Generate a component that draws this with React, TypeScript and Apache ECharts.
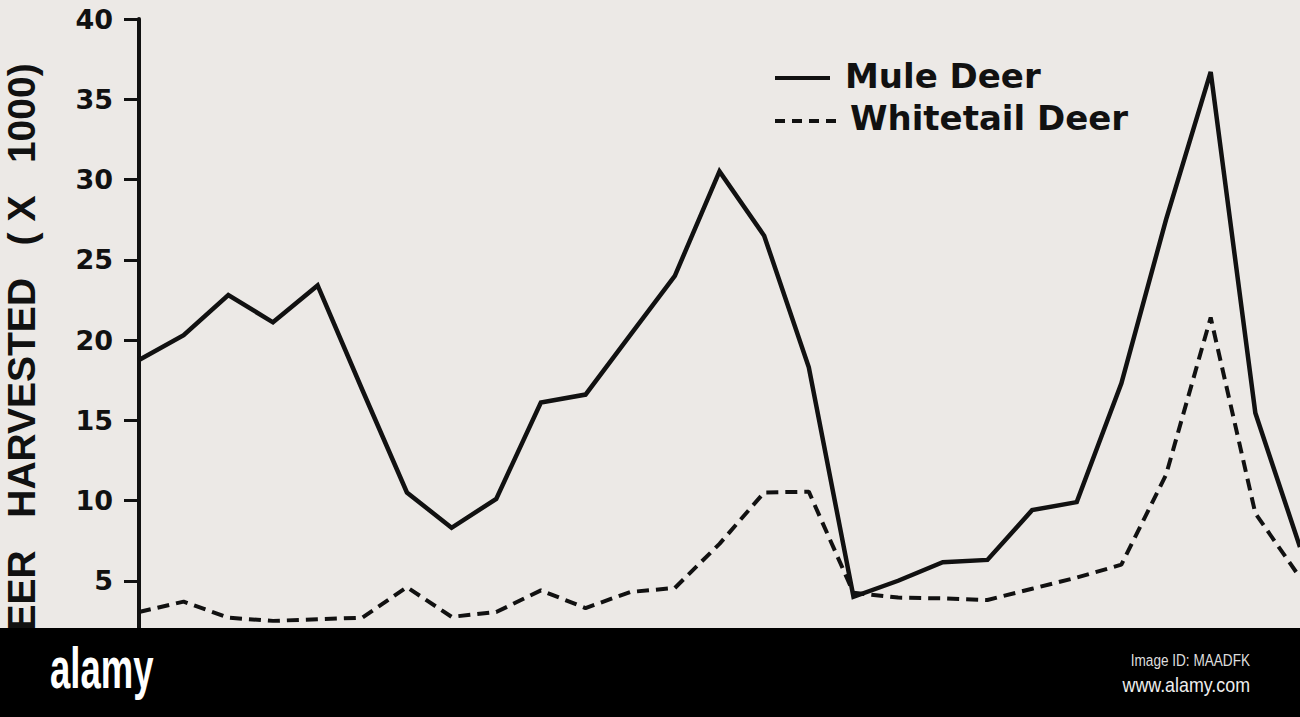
import React, { useEffect, useRef } from "react";
import * as echarts from "echarts";

// Seasons (x positions) – the x axis itself is hidden under the bottom band of the picture
const categories = [
  "1", "2", "3", "4", "5", "6", "7", "8", "9", "10", "11", "12", "13", "14",
  "15", "16", "17", "18", "19", "20", "21", "22", "23", "24", "25", "26", "27",
];

// Deer harvested (x 1000)
const muleDeer = [
  18.75, 20.3, 22.8, 21.1, 23.4, 16.9, 10.5, 8.3, 10.1, 16.1, 16.6, 20.3, 24.0, 30.5,
  26.5, 18.3, 4.0, 5.0, 6.15, 6.3, 9.4, 9.9, 17.3, 27.5, 36.7, 15.45, 7.1,
];
const whitetailDeer = [
  3.05, 3.7, 2.7, 2.5, 2.6, 2.7, 4.6, 2.75, 3.05, 4.4, 3.3, 4.3, 4.55, 7.3,
  10.5, 10.55, 4.25, 3.95, 3.9, 3.8, 4.5, 5.2, 6.0, 11.6, 21.4, 9.2, 5.2,
];

const seriesNames = ["Mule Deer", "Whitetail Deer"];
const yAxisMin = 0;
const yAxisMax = 40;
const yAxisStep = 5;
const yAxisTitle = "DEER   HARVESTED   ( X   1000)";
const footerLogo = "alamy";
const footerId = "Image ID: MAADFK";
const footerUrl = "www.alamy.com";

const INK = "#111111";
const PAPER = "#ece9e6";

export default function App() {
  const ref = useRef<HTMLDivElement>(null);

  useEffect(() => {
    if (!ref.current) return;
    const chart = echarts.init(ref.current, undefined, { renderer: "svg" });
    const option: any = {
      animation: false,
      backgroundColor: PAPER,
      grid: { left: 139, right: 0, top: 19, bottom: 56, containLabel: false },
      xAxis: {
        type: "category",
        data: categories,
        boundaryGap: false,
        show: false,
      },
      yAxis: {
        type: "value",
        min: yAxisMin,
        max: yAxisMax,
        interval: yAxisStep,
        splitLine: { show: false },
        axisLine: { show: true, lineStyle: { color: INK, width: 4 } },
        axisTick: { show: true, length: 15, lineStyle: { color: INK, width: 3 } },
        axisLabel: {
          show: true,
          showMinLabel: false,
          margin: 26,
          color: INK,
          fontFamily: "DejaVu Sans",
          fontWeight: "bold",
          fontSize: 27,
        },
      },
      series: [
        {
          name: seriesNames[0],
          type: "line",
          data: muleDeer,
          symbol: "none",
          lineStyle: { color: INK, width: 4.5, type: "solid", join: "miter" },
          z: 3,
        },
        {
          name: seriesNames[1],
          type: "line",
          data: whitetailDeer,
          symbol: "none",
          lineStyle: { color: INK, width: 4, type: [12, 7] },
          z: 2,
        },
      ],
      graphic: [
        // y axis title
        {
          type: "text",
          x: 21,
          y: 361,
          rotation: Math.PI / 2,
          z: 50,
          style: {
            text: yAxisTitle,
            font: 'bold 39px "Liberation Sans", Arial, sans-serif',
            fill: INK,
            textAlign: "center",
            align: "center",
            textVerticalAlign: "middle",
            verticalAlign: "middle",
          },
        },
        // legend
        {
          type: "line",
          z: 50,
          shape: { x1: 775, y1: 78, x2: 830, y2: 78 },
          style: { stroke: INK, lineWidth: 4 },
        },
        {
          type: "line",
          z: 50,
          shape: { x1: 775, y1: 121, x2: 836, y2: 121 },
          style: { stroke: INK, lineWidth: 4, lineDash: [10, 7] },
        },
        {
          type: "text",
          x: 845,
          y: 76,
          z: 50,
          style: {
            text: seriesNames[0],
            font: 'bold 34px "DejaVu Sans", sans-serif',
            fill: INK,
            textAlign: "left",
            align: "left",
            textVerticalAlign: "middle",
            verticalAlign: "middle",
          },
        },
        {
          type: "text",
          x: 850,
          y: 117.5,
          z: 50,
          style: {
            text: seriesNames[1],
            font: 'bold 34px "DejaVu Sans", sans-serif',
            fill: INK,
            textAlign: "left",
            align: "left",
            textVerticalAlign: "middle",
            verticalAlign: "middle",
          },
        },
        // bottom black band
        {
          type: "rect",
          z: 100,
          shape: { x: 0, y: 628, width: 1300, height: 89 },
          style: { fill: "#000000" },
        },
        {
          type: "text",
          x: 50,
          y: 668,
          z: 101,
          scaleX: 0.64,
          style: {
            text: footerLogo,
            font: 'bold 57px "Liberation Sans", Arial, sans-serif',
            fill: "#ffffff",
            textAlign: "left",
            align: "left",
            textVerticalAlign: "middle",
            verticalAlign: "middle",
          },
        },
        {
          type: "text",
          x: 1250,
          y: 660,
          z: 101,
          scaleX: 0.8,
          style: {
            text: footerId,
            font: '17px "Liberation Sans", Arial, sans-serif',
            fill: "#dddddd",
            textAlign: "right",
            align: "right",
            textVerticalAlign: "middle",
            verticalAlign: "middle",
          },
        },
        {
          type: "text",
          x: 1250,
          y: 684,
          z: 101,
          scaleX: 0.85,
          style: {
            text: footerUrl,
            font: '21px "Liberation Sans", Arial, sans-serif',
            fill: "#eeeeee",
            textAlign: "right",
            align: "right",
            textVerticalAlign: "middle",
            verticalAlign: "middle",
          },
        },
      ],
    };
    chart.setOption(option);
    return () => {
      chart.dispose();
    };
  }, []);

  return (
    <div
      ref={ref}
      style={{ position: "absolute", left: 0, top: 0, width: 1300, height: 717 }}
    />
  );
}
